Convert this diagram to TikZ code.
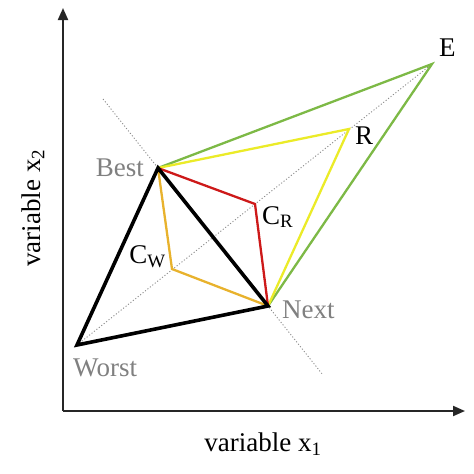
\documentclass[tikz,border=0pt]{standalone}
\usepackage{xcolor}
\usepackage{fontspec}
\setmainfont{Liberation Serif}
\usepackage{tikz}
\usetikzlibrary{positioning}
\usetikzlibrary{calc,arrows.meta}

\definecolor{expgreen}{RGB}{125,185,70}
\definecolor{refyellow}{RGB}{235,235,40}
\definecolor{conred}{RGB}{205,25,25}
\definecolor{conorange}{RGB}{232,178,45}

\begin{document}
\begin{tikzpicture}[x=1pt, y=-1pt, font=\fontsize{27}{31}\selectfont,
    axis/.style={line width=2pt, draw=black!85, -{Triangle[length=12pt,width=10pt]}},
    guide/.style={black!45, line width=0.9pt, dash pattern=on 1.1pt off 2pt},
    simplex/.style={line width=3.6pt, line join=miter},
    trial/.style={line width=2.3pt, line join=miter},
    greylbl/.style={inner sep=1pt, text=black!50},
    ptlbl/.style={inner sep=1pt, text=black}]
    \useasboundingbox (0,0) rectangle (474,474);
    % Points
    \coordinate (origin) at (63,411);
    \coordinate (xend) at (465,411);
    \coordinate (yend) at (63,8);
    \coordinate (best) at (158,168);
    \coordinate (worst) at (77,345);
    \coordinate (next) at (268,306);
    \coordinate (expd) at (432,64);
    \coordinate (refl) at (349,129);
    \coordinate (cr) at (255,204);
    \coordinate (cw) at (172,269);
    \coordinate (g1) at ($(best)!-0.5!(next)$);
    \coordinate (g2) at ($(next)!-0.49!(best)$);

    % Labels
    \node [greylbl, left=13pt of best] (lbest) {Best};
    \node [greylbl, below right=13pt and -5pt of worst] (lworst) {Worst};
    \node [greylbl, below right=-6pt and 13pt of next] (lnext) {Next};
    \node [ptlbl, above right=6pt and 6pt of expd] (lexpd) {E};
    \node [ptlbl, below right=-3pt and 5pt of refl] (lrefl) {R};
    \node [ptlbl, below right=1pt and 6pt of cr] (lcr) {C\textsubscript{R}};
    \node [ptlbl, above left=0pt and 5pt of cw] (lcw) {C\textsubscript{W}};
    \node [ptlbl] (xlabel) at (263,444) {variable x\textsubscript{1}};
    \node [ptlbl, rotate=90] (ylabel) at (33,208) {variable x\textsubscript{2}};

    % Axes
    \draw [axis] (origin) -- (xend);
    \draw [axis] (origin) -- (yend);
    % Guides
    \draw [guide] (g1) -- (g2);
    \draw [guide] (worst) -- (expd);
    % Trial simplices
    \draw [trial, expgreen] (best) -- (expd) -- (next);
    \draw [trial, refyellow] (best) -- (refl) -- (next);
    \draw [trial, conred] (best) -- (cr) -- (next);
    \draw [trial, conorange] (best) -- (cw) -- (next);
    \draw [simplex] (best) -- (worst) -- (next) -- cycle;
\end{tikzpicture}
\end{document}
